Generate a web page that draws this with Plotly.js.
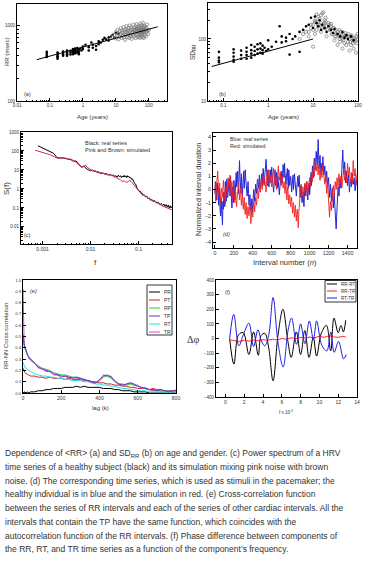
<!DOCTYPE html>
<html><head><meta charset="utf-8">
<script src="https://cdn.plot.ly/plotly-3.0.1.min.js"></script>
<style>html,body{margin:0;padding:0;background:#fff;}#g{width:365px;height:567px;}</style>
</head><body><div id="g"></div>
<script>
// ---------- (a) mean RR vs age ----------
const ageChildA = [0.08,0.08,0.08,0.08,0.17,0.17,0.17,0.17,0.17,0.25,0.25,0.25,0.33,0.33,0.33,0.33,0.42,0.42,0.42,0.5,0.5,0.5,0.5,0.58,0.58,0.58,0.58,0.67,0.67,0.67,0.75,0.75,0.75,0.83,0.9,1.0,1.0,1.2,1.5,1.5,1.8,2.0,2.0,2.5,2.5,3.0,3.0,3.5,4.0,4.5,5.0,6.0,6.0,7.0,8.0,9.0,10,12];
const rrChildA = [450,425,400,385,440,415,395,380,365,455,420,400,470,445,420,400,465,440,415,490,460,440,420,500,470,450,430,505,470,440,480,450,420,500,470,530,490,560,520,470,600,560,510,540,480,620,570,600,650,690,660,700,640,720,760,700,800,780];
const ageAdultA = [8,9,10,10,11,11,12,12,13,13,14,14,15,15,16,16,17,17,18,18,19,19,20,20,21,22,22,23,24,24,25,25,26,27,28,28,29,30,30,31,32,33,34,35,35,36,37,38,39,40,40,41,42,43,44,45,45,46,47,48,49,50,50,51,52,53,54,55,55,56,57,58,59,60,60,61,62,63,64,65,65,66,67,68,69,70,70,72,74,75,76,78,80,82,84,86,88,90,95,100];
const rrAdultA = [700,760,680,820,740,880,660,790,850,720,930,780,690,860,810,740,960,700,880,770,830,650,900,750,990,820,710,870,780,940,690,840,1010,760,880,720,950,800,670,900,830,760,1040,870,720,940,800,880,690,980,850,760,920,1050,830,700,890,770,960,840,710,1000,880,780,930,820,690,1070,860,750,950,810,880,720,1020,900,780,840,960,700,880,1100,820,760,940,870,690,1000,830,900,760,980,860,720,940,820,1040,870,780,880];
const fitAgeA = [0.04,186];
const fitRRA = [355,970];

// ---------- (b) SDRR vs age ----------
const ageChildB = [0.08,0.08,0.08,0.08,0.17,0.17,0.17,0.17,0.17,0.25,0.25,0.25,0.33,0.33,0.33,0.33,0.42,0.42,0.42,0.42,0.5,0.5,0.5,0.58,0.58,0.58,0.67,0.67,0.67,0.75,0.75,0.75,0.83,0.9,1.0,1.0,1.2,1.5,1.8,2.0,2.0,2.5,2.5,3.0,3.0,3.5,4.0,5.0,5.0,6.0,7.0,8,9,10,11,12,13,14,15,16,18,20,22,25,28,30,35,40,45,50,55,60,70,80];
const sdChildB = [62,50,45,42,68,60,52,46,43,65,55,48,72,62,55,48,80,66,58,50,75,64,55,82,68,58,85,70,60,78,66,58,72,64,95,68,75,90,160,110,88,105,92,120,56,100,110,62,130,140,160,170,220,150,230,180,160,200,140,170,150,130,160,140,125,145,120,110,130,105,115,100,110,95];
const ageAdultB = [5,6,7,8,9,10,10,11,12,12,13,14,15,15,16,17,18,18,19,20,20,22,24,25,26,28,30,30,32,35,35,38,40,40,42,45,45,48,50,50,55,55,60,60,65,65,70,70,75,80,80,85,90,95,100,13,11,17,9,8,10,12,14,16,18,21,23,27,29,33,36,39,43,47,52,57,62,67,72,77,83,88,92,97,11,15,19,25,31];
const sdAdultB = [100,120,130,110,150,75,170,190,140,250,160,210,180,130,260,170,200,150,220,160,110,180,140,160,120,150,130,95,140,120,80,140,110,90,130,100,70,120,105,85,115,80,110,90,100,65,110,80,95,100,70,90,60,85,100,230,200,270,170,130,140,190,170,150,180,140,170,120,150,110,130,100,115,95,125,105,120,90,115,85,105,95,110,120,120,240,190,175,110];
const fitAgeB = [0.055,10];
const fitSDB = [36,100];

// ---------- (c) power spectrum ----------
const freqReal = [0.0008,0.0012,0.0017,0.002,0.0023,0.0026,0.003,0.0034,0.0038,0.0042,0.0046,0.005,0.0055,0.006,0.0066,0.0072,0.0078,0.0085,0.0092,0.01,0.011,0.012,0.013,0.014,0.015,0.016,0.018,0.02,0.022,0.024,0.026,0.028,0.03,0.032,0.034,0.036,0.038,0.04,0.042,0.044,0.046,0.048,0.05,0.052,0.054,0.056,0.058,0.06,0.063,0.066,0.069,0.072,0.075,0.078,0.081,0.084,0.087,0.09,0.093,0.096,0.1,0.105,0.11,0.115,0.12,0.125,0.13,0.14,0.15,0.16,0.17,0.18,0.19,0.2,0.22,0.24,0.26,0.28,0.3,0.32,0.34,0.36,0.38,0.4,0.42,0.44,0.46,0.48,0.5];
const specReal = [190,120,75,45,42,44,40,38,35,33,28,30,22,18,14,16,13,11,10,9,10,8,9,7,8,6.5,7,6,6.5,5.2,6,5,5.5,4.5,5,4.2,5.3,4.4,5,4,4.8,4.2,5.2,4.3,4.9,4,5,4.2,4.6,3.8,4,3.2,3.4,2.6,2.5,1.9,1.8,1.3,1.3,0.95,0.9,0.7,0.75,0.55,0.6,0.45,0.5,0.38,0.42,0.3,0.33,0.25,0.28,0.22,0.24,0.18,0.2,0.15,0.17,0.13,0.16,0.12,0.15,0.11,0.14,0.1,0.13,0.1,0.12];
const freqSim = [0.0007,0.001,0.0014,0.0018,0.002,0.0023,0.0026,0.003,0.0034,0.0038,0.0042,0.0046,0.005,0.0055,0.006,0.0066,0.0072,0.0078,0.0085,0.0092,0.01,0.011,0.012,0.013,0.014,0.015,0.016,0.018,0.02,0.022,0.024,0.026,0.028,0.03,0.033,0.036,0.039,0.042,0.045,0.048,0.051,0.055,0.06,0.065,0.07,0.075,0.08,0.085,0.09,0.1,0.11,0.12,0.13,0.14,0.15,0.16,0.18,0.2,0.22,0.24,0.26,0.28,0.3,0.33,0.36,0.4,0.44,0.48,0.5];
const specSim = [110,85,65,48,42,44,40,42,36,38,30,32,24,20,16,14,15,18,14,12,10,9,9.5,8,8.5,7,7.5,6.5,6,5.5,5.8,5,5.2,4.5,4.2,3.8,3.6,3,2.6,2.5,2.7,2.2,2.4,2.8,2.5,2,1.6,1.4,1.1,0.85,0.7,0.55,0.48,0.42,0.36,0.33,0.28,0.25,0.22,0.2,0.17,0.16,0.14,0.12,0.11,0.1,0.09,0.08,0.08];

// ---------- (d) normalized interval series (every 5th interval) ----------
const seriesReal = [-0.3,0.6,0.4,-0.2,-0.8,0.5,0.2,-0.5,-1.2,0.1,
-0.4,-1.6,-2.0,-0.6,-1.1,-1.9,-2.7,-0.9,-1.5,-0.2,
-0.6,-1.3,0.6,0.0,-0.9,0.8,0.3,-0.6,-0.2,0.3,
0.8,0.1,-0.5,1.0,0.5,-0.7,-1.4,0.2,-0.3,-1.0,
0.7,0.3,-0.8,-0.1,1.0,1.3,0.2,0.8,1.4,0.4,
-0.3,1.1,2.2,1.0,0.5,-0.3,1.2,0.6,-0.4,0.2,
0.9,1.4,0.1,0.7,1.5,0.9,0.3,0.6,-0.5,0.0,
0.6,-0.3,-1.2,-0.6,-0.4,-1.0,-1.6,-1.1,-0.7,-1.8,
-1.3,-0.5,0.0,-0.4,-0.9,-0.2,0.4,0.0,-0.3,0.4,
0.8,0.5,0.1,0.6,1.1,0.3,-0.2,0.5,0.9,1.2,
0.3,0.9,1.6,1.0,0.4,0.9,1.2,1.8,2.3,1.4,
0.8,0.3,1.5,0.9,0.2,0.7,1.1,1.5,0.5,1.2,
1.7,1.0,0.6,0.2,-0.2,0.4,0.9,1.5,0.3,0.9,
1.3,0.5,0.1,1.0,0.7,0.1,-0.4,0.3,0.8,1.0,
1.4,0.9,0.5,1.2,1.9,1.5,0.9,2.0,1.3,0.8,
0.4,0.9,1.1,1.6,0.6,0.1,1.5,1.1,0.3,0.8,
1.0,0.5,-0.2,0.3,0.7,1.1,0.0,0.5,1.2,0.7,
0.4,0.0,-0.5,0.2,0.6,1.0,0.2,0.6,1.1,0.2,
-0.6,0.0,0.3,-0.4,-1.0,-0.5,-0.2,-0.8,-1.3,-0.6,
0.4,-0.1,-0.5,0.1,0.6,0.0,-0.8,-0.3,0.2,0.5,
-0.4,0.4,0.9,1.3,0.3,1.0,1.8,1.3,0.9,2.0,
2.4,2.0,1.5,2.3,2.9,2.3,1.9,2.7,3.8,2.6,
1.6,2.2,2.6,1.8,1.2,1.6,2.0,1.4,2.5,1.8,
1.1,1.4,1.8,1.0,0.6,1.0,1.4,0.8,0.2,0.6,
0.9,0.1,-0.6,-0.1,0.4,-0.2,-0.9,-0.3,0.1,-0.7,
-1.4,-0.8,-0.3,-1.1,-2.0,-2.4,-3.0,-2.1,-1.2,-0.5,
0.2,0.0,-0.5,0.3,0.8,0.6,0.1,0.9,1.6,2.2,
3.0,1.9,1.2,1.6,2.1,1.2,0.5,0.8,1.4,0.9,
0.3,0.7,1.1,0.5,-0.2,0.3,0.8,0.6,0.2,0.9,
1.2,0.7,0.4,0.5,0.9,0.4,-0.1,0.2,0.7,0.6,
0.3];
const seriesSim = [0.2,-0.4,-0.9,0.1,0.6,0.9,1.4,0.4,-0.3,0.2,
0.5,-0.5,-1.0,-0.2,0.1,-0.3,-0.6,0.2,0.7,0.1,
-0.2,-0.8,-1.1,-0.3,0.3,-0.2,-0.5,0.4,0.9,0.5,
0.1,0.6,1.1,0.4,-0.3,0.2,0.6,-0.1,-0.7,-0.1,
0.2,-0.5,-1.0,-0.4,-0.2,-0.9,-1.3,-0.6,-0.4,0.1,
0.4,-0.3,-0.8,-0.2,0.1,-0.6,-1.2,-0.7,-0.3,-1.0,
-1.5,-0.9,-0.6,-1.4,-1.9,-1.3,-1.0,-1.7,-2.2,-1.6,
-1.3,-1.8,-2.0,-1.4,-1.1,-1.9,-2.6,-2.0,-1.4,-1.9,
-2.1,-1.4,-0.9,-1.3,-1.7,-1.0,-0.6,-1.0,-1.2,-0.4,
0.1,-0.4,-0.7,0.0,0.5,0.1,-0.2,0.4,0.8,0.3,
0.0,0.6,1.0,0.5,0.3,0.9,0.7,0.2,-0.2,0.6,
1.2,0.7,0.4,1.0,1.5,0.9,0.6,0.9,1.1,0.5,
0.2,0.6,0.9,1.3,1.6,0.9,0.5,0.9,1.2,0.5,
0.0,0.5,0.8,1.4,1.8,1.1,0.7,1.0,1.3,0.8,
0.3,0.7,1.0,0.5,0.1,0.4,0.6,0.1,-0.3,0.2,
0.5,-0.2,-0.8,-0.2,0.2,-0.5,-1.1,-0.7,-0.4,-0.9,
-1.3,-0.8,-0.6,-1.2,-1.8,-1.3,-1.0,-1.6,-2.1,-1.5,
-1.2,-1.9,-2.4,-1.8,-1.5,-2.2,-2.9,-1.8,-1.1,-0.6,
-0.2,0.1,0.4,-0.1,-0.5,-0.1,0.2,-0.3,-0.6,0.0,
0.5,0.1,-0.1,0.3,0.6,0.0,-0.4,0.0,0.3,0.7,
0.9,0.4,0.2,0.8,1.3,0.9,0.6,1.2,1.7,1.3,
1.0,1.7,2.3,1.8,1.4,1.7,2.0,1.5,1.1,1.5,
1.8,1.2,0.7,1.1,1.5,1.2,0.9,1.4,1.9,1.4,
1.0,0.6,0.4,0.8,1.2,0.4,-0.3,0.1,0.5,-0.4,
-1.2,-1.7,-2.1,-1.4,-0.9,-1.3,-1.6,-1.0,-0.4,0.0,
0.3,-0.1,-0.5,0.1,0.6,0.3,0.0,0.5,0.9,0.5,
0.2,0.8,1.2,0.7,0.4,0.7,1.0,0.5,0.1,0.4,
0.8,1.2,1.6,1.1,0.7,1.1,1.4,0.9,0.5,1.3,
2.0,1.5,1.1,1.4,1.7,1.0,0.6,0.9,1.3,0.8,
0.4,1.3,2.2,1.5,1.0,1.3,1.6,1.0,0.5,0.8,
1.2];

// ---------- (e) cross correlation ----------
const lagK = [0,2,4,6,8,10,15,20,25,30,40,60,80,100,120,140,160,180,200,220,240,260,280,300,320,340,360,380,400,420,440,460,480,500,520,540,560,580,600,620,640,660,680,700,720,740,760,780,800];
const ccPR = [0.01,0.00,0.01,0.00,0.01,0.01,0.00,0.01,0.01,0.00,0.01,0.01,0.02,0.02,0.03,0.03,0.04,0.04,0.04,0.05,0.05,0.05,0.06,0.05,0.06,0.05,0.05,0.05,0.05,0.04,0.04,0.04,0.03,0.03,0.02,0.02,0.02,0.01,0.01,0.01,0.01,0.00,0.00,0.00,0.00,0.00,0.00,0.00,0.00];
const ccPT = [0.22,0.21,0.20,0.19,0.19,0.18,0.17,0.17,0.16,0.16,0.15,0.15,0.14,0.14,0.13,0.14,0.13,0.13,0.13,0.12,0.13,0.12,0.12,0.12,0.11,0.11,0.10,0.10,0.09,0.09,0.08,0.08,0.07,0.07,0.06,0.06,0.05,0.05,0.04,0.04,0.04,0.03,0.04,0.03,0.03,0.02,0.02,0.02,0.02];
const ccRP = [0.50,0.46,0.43,0.41,0.40,0.39,0.36,0.35,0.33,0.31,0.29,0.26,0.24,0.22,0.21,0.20,0.18,0.17,0.16,0.16,0.15,0.14,0.14,0.13,0.12,0.11,0.10,0.09,0.11,0.14,0.15,0.13,0.10,0.08,0.07,0.07,0.08,0.07,0.06,0.05,0.04,0.03,0.03,0.02,0.02,0.02,0.02,0.01,0.02];
const ccTP = [0.52,0.48,0.44,0.42,0.40,0.41,0.37,0.36,0.33,0.32,0.30,0.26,0.23,0.21,0.20,0.19,0.17,0.16,0.15,0.15,0.14,0.13,0.14,0.13,0.12,0.11,0.10,0.09,0.12,0.15,0.16,0.14,0.11,0.08,0.07,0.08,0.09,0.08,0.06,0.05,0.04,0.03,0.03,0.02,0.03,0.02,0.01,0.02,0.02];
const ccRT = [0.27,0.26,0.25,0.24,0.24,0.23,0.22,0.21,0.21,0.20,0.19,0.17,0.16,0.15,0.15,0.14,0.14,0.13,0.13,0.12,0.12,0.11,0.11,0.11,0.10,0.10,0.09,0.08,0.08,0.07,0.07,0.06,0.06,0.05,0.04,0.04,0.03,0.03,0.02,0.02,0.02,0.01,0.01,0.01,0.01,0.01,0.00,0.01,0.01];
const ccTR = [0.92,0.62,0.50,0.45,0.42,0.40,0.38,0.35,0.34,0.31,0.29,0.27,0.22,0.22,0.19,0.19,0.16,0.16,0.14,0.15,0.13,0.14,0.13,0.13,0.11,0.11,0.09,0.09,0.11,0.16,0.15,0.15,0.10,0.08,0.08,0.07,0.09,0.07,0.07,0.04,0.05,0.03,0.02,0.03,0.02,0.02,0.02,0.01,0.03];

// ---------- (f) phase difference ----------
const fqRRRT = [0.45,0.9,1.4,1.9,2.5,3.0,3.5,3.8,4.2,4.6,5.07,5.6,6.12,6.65,7.0,7.55,8.0,8.45,8.9,9.35,9.7,10.2,10.75,11.2,11.55,12.0,12.3,12.55,12.8];
const phRRRT = [0,-175,25,40,-110,45,-115,20,35,-60,-290,25,200,-20,-130,45,-110,55,-130,10,-120,35,90,-85,140,40,90,45,125];
const fqRRTR = [0.5,1,1.5,2,2.5,3,3.5,4,4.5,5,5.5,6,6.5,7,7.5,8,8.5,9,9.5,10,10.5,11,11.5,12,12.5,12.8];
const phRRTR = [-10,-15,-20,-12,-18,-10,-15,-8,-12,-5,-10,0,-5,5,0,8,3,10,5,15,8,18,12,8,15,10];
const fqRTTR = [0.45,0.89,1.43,1.93,2.5,3.0,3.46,3.82,4.18,4.6,5.07,5.6,6.14,6.68,7.04,7.57,8.0,8.46,8.93,9.36,9.71,10.25,10.79,11.21,11.57,12.04,12.57,12.86];
const phRTTR = [0,165,-50,30,105,-55,60,-15,-50,20,280,-30,-195,60,140,-40,100,-35,120,-5,120,-45,-85,45,-95,-20,-140,-110];

const eLegendNames = ['PR','PT','RP','TP','RT','TR'];
const fLegendNames = ['RR-RT','RR-TR','RT-TR'];

// ---------- layout helpers ----------
const W = 365, H = 567;
const FF = 'Liberation Sans, Arial, sans-serif';
const px = v => v / W, py = v => 1 - v / H;
function ax(dom, extra, fs) {
  return Object.assign({
    domain: dom, showline: true, linecolor: '#000', linewidth: 1, mirror: true,
    ticks: 'inside', ticklen: 3, tickcolor: '#000', tickwidth: 1,
    showgrid: false, zeroline: false,
    tickfont: {family: FF, size: fs || 5, color: '#333'}
  }, extra);
}
function logMinor() { return {ticks: 'inside', ticklen: 1.5, tickcolor: '#000', dtick: 'D1', showgrid: false}; }
function A(text, x, y, o) {
  o = o || {};
  return {text: text, x: px(x), y: py(y), xref: 'paper', yref: 'paper', showarrow: false,
    xanchor: o.xa || 'center', yanchor: o.ya || 'middle', textangle: o.rot || 0,
    font: {family: o.ff || FF, size: o.fs || 6, color: o.c || '#333'}};
}

const colE = ['#000000', '#e02020', '#33cc33', '#6a30d8', '#20e0e0', '#e040e0'];
const colF = ['#000000', '#ff2020', '#2020e0'];

const traces = [
  {x: ageChildA, y: rrChildA, mode: 'markers', marker: {size: 2.6, color: '#000'}, xaxis: 'x', yaxis: 'y'},
  {x: ageAdultA, y: rrAdultA, mode: 'markers', marker: {symbol: 'circle-open', size: 3.2, color: '#777', line: {width: 0.7}}, xaxis: 'x', yaxis: 'y'},
  {x: fitAgeA, y: fitRRA, mode: 'lines', line: {color: '#000', width: 1}, xaxis: 'x', yaxis: 'y'},

  {x: ageAdultB, y: sdAdultB, mode: 'markers', marker: {symbol: 'circle-open', size: 3.2, color: '#777', line: {width: 0.7}}, xaxis: 'x2', yaxis: 'y2'},
  {x: ageChildB, y: sdChildB, mode: 'markers', marker: {size: 2.6, color: '#000'}, xaxis: 'x2', yaxis: 'y2'},
  {x: fitAgeB, y: fitSDB, mode: 'lines', line: {color: '#000', width: 1}, xaxis: 'x2', yaxis: 'y2'},

  {x: freqReal, y: specReal, mode: 'lines', line: {color: '#000', width: 1}, xaxis: 'x3', yaxis: 'y3'},
  {x: freqSim, y: specSim, mode: 'lines', line: {color: '#d8246e', width: 1}, xaxis: 'x3', yaxis: 'y3'},

  {y: seriesReal, x0: 0, dx: 5, mode: 'lines', line: {color: '#2424d8', width: 1}, xaxis: 'x4', yaxis: 'y4'},
  {y: seriesSim, x0: 0, dx: 5, mode: 'lines', line: {color: '#f02020', width: 1}, opacity: 0.9, xaxis: 'x4', yaxis: 'y4'},

  {x: lagK, y: ccPR, mode: 'lines', line: {color: colE[0], width: 1}, xaxis: 'x5', yaxis: 'y5'},
  {x: lagK, y: ccPT, mode: 'lines', line: {color: colE[1], width: 1}, xaxis: 'x5', yaxis: 'y5'},
  {x: lagK, y: ccRT, mode: 'lines', line: {color: colE[4], width: 1}, xaxis: 'x5', yaxis: 'y5'},
  {x: lagK, y: ccTR, mode: 'lines', line: {color: colE[5], width: 1}, xaxis: 'x5', yaxis: 'y5'},
  {x: lagK, y: ccRP, mode: 'lines', line: {color: colE[2], width: 1}, xaxis: 'x5', yaxis: 'y5'},
  {x: lagK, y: ccTP, mode: 'lines', line: {color: colE[3], width: 1}, xaxis: 'x5', yaxis: 'y5'},

  {x: fqRRRT, y: phRRRT, mode: 'lines', line: {color: colF[0], width: 1, shape: 'spline'}, xaxis: 'x6', yaxis: 'y6'},
  {x: fqRRTR, y: phRRTR, mode: 'lines', line: {color: colF[1], width: 1, shape: 'spline'}, xaxis: 'x6', yaxis: 'y6'},
  {x: fqRTTR, y: phRTTR, mode: 'lines', line: {color: colF[2], width: 1, shape: 'spline'}, xaxis: 'x6', yaxis: 'y6'}
];

const logCommon = {type: 'log', dtick: 1, tick0: 0, exponentformat: 'none', minor: logMinor()};

const layout = {
  width: W, height: H, margin: {l: 0, r: 0, t: 0, b: 0}, showlegend: false,
  paper_bgcolor: '#fff', plot_bgcolor: '#fff',
  xaxis: ax([px(17), px(167)], Object.assign({}, logCommon, {range: [-2, 2.55], anchor: 'y'}), 4.5),
  yaxis: ax([py(101), py(4)], Object.assign({}, logCommon, {range: [2, 3.29], anchor: 'x'}), 4.5),
  xaxis2: ax([px(208), px(358)], Object.assign({}, logCommon, {range: [-1.34, 2], anchor: 'y2'}), 4.5),
  yaxis2: ax([py(101), py(3)], Object.assign({}, logCommon, {range: [1, 2.58], anchor: 'x2'}), 4.5),
  xaxis3: ax([px(21), px(172)], Object.assign({}, logCommon, {range: [-3.45, -0.3], anchor: 'y3'}), 5),
  yaxis3: ax([py(244), py(132)], Object.assign({}, logCommon, {range: [-2.9, 3], anchor: 'x3'}), 4.5),
  xaxis4: ax([px(213), px(357)], {range: [-20, 1500], dtick: 200, anchor: 'y4'}, 5.3),
  yaxis4: ax([py(248), py(133)], {range: [-4.45, 4.3], dtick: 1, anchor: 'x4'}, 5.3),
  xaxis5: ax([px(23), px(176)], {range: [0, 800], dtick: 200, anchor: 'y5'}, 5),
  yaxis5: ax([py(393), py(280)], {range: [0, 1], dtick: 0.1, tickformat: '.1f', anchor: 'x5'}, 4.3),
  xaxis6: ax([px(216), px(357)], {range: [-1, 14], dtick: 2, anchor: 'y6'}, 5),
  yaxis6: ax([py(397), py(280)], {range: [-400, 400], dtick: 100, anchor: 'x6'}, 4.6),
  shapes: [],
  annotations: []
};

const an = layout.annotations;
// panel letters
an.push(A('(a)', 27, 94, {fs: 5.5}));
an.push(A('(b)', 222, 94, {fs: 5.5}));
an.push(A('(c)', 27, 235, {fs: 5.5}));
an.push(A('<i>(d)</i>', 226, 234, {fs: 5.5}));
an.push(A('<i>(e)</i>', 33, 291, {fs: 5.5}));
an.push(A('(f)', 227, 292, {fs: 5.5}));
// axis titles
an.push(A('Age (years)', 92, 117, {fs: 6}));
an.push(A('RR (msec)', 7, 52, {fs: 6, rot: -90}));
an.push(A('Age (years)', 283, 117, {fs: 6}));
an.push(A('SD<sub>RR</sub>', 193, 52, {fs: 6.5, rot: -90}));
an.push(A('f', 96, 262, {fs: 8}));
an.push(A('S(f)', 6, 188, {fs: 8, rot: -90}));
an.push(A('Interval number (<i>n</i>)', 285, 262, {fs: 7.5}));
an.push(A('Normalized interval duration', 198, 190, {fs: 7.5, rot: -90}));
an.push(A('lag (k)', 100, 408, {fs: 6}));
an.push(A('RR-NN Cross correlation', 6, 336, {fs: 6, rot: -90}));
an.push(A('f x 10<sup>-3</sup>', 286, 412, {fs: 4.5}));
an.push(A('\u0394\u03c6', 193, 339, {fs: 10, ff: 'Liberation Serif, Times New Roman, serif'}));
// in-plot notes
an.push(A('Black: real series', 83, 143, {fs: 5.5, xa: 'left'}));
an.push(A('Pink and Brown: simulated', 83, 150, {fs: 5.5, xa: 'left'}));
an.push(A('Blue: real series', 228, 139, {fs: 5.3, xa: 'left'}));
an.push(A('Red: simulated', 228, 146, {fs: 5.3, xa: 'left'}));

// legend (e)
layout.shapes.push({type: 'rect', xref: 'paper', yref: 'paper', x0: px(147), x1: px(172), y0: py(335), y1: py(285), line: {color: '#000', width: 0.8}, fillcolor: '#fff'});
eLegendNames.forEach((nm, i) => {
  const yy = 292 + i * 8;
  layout.shapes.push({type: 'line', xref: 'paper', yref: 'paper', x0: px(149), x1: px(160), y0: py(yy), y1: py(yy), line: {color: colE[i], width: 1}});
  an.push(A(nm, 162, yy, {fs: 5, xa: 'left'}));
});
// legend (f)
layout.shapes.push({type: 'rect', xref: 'paper', yref: 'paper', x0: px(325), x1: px(356), y0: py(302), y1: py(280.5), line: {color: '#000', width: 0.8}, fillcolor: '#fff'});
fLegendNames.forEach((nm, i) => {
  const yy = 284 + i * 7;
  layout.shapes.push({type: 'line', xref: 'paper', yref: 'paper', x0: px(327), x1: px(337), y0: py(yy), y1: py(yy), line: {color: colF[i], width: 1}});
  an.push(A(nm, 339, yy, {fs: 4.6, xa: 'left'}));
});

// caption
const captionLines = [
  'Dependence of &lt;RR&gt; (a) and SD<sub>RR</sub> (b) on age and gender. (c) Power spectrum of a HRV',
  'time series of a healthy subject (black) and its simulation mixing pink noise with brown',
  'noise. (d) The corresponding time series, which is used as stimuli in the pacemaker; the',
  'healthy individual is in blue and the simulation in red. (e) Cross-correlation function',
  'between the series of RR intervals and each of the series of other cardiac intervals. All the',
  'intervals that contain the TP have the same function, which coincides with the',
  'autocorrelation function of the RR intervals. (f) Phase difference between components of',
  'the RR, RT, and TR time series as a function of the component\u2019s frequency.'
];
captionLines.forEach((t, i) => an.push(A(t, 3, 453.3 + i * 13.72, {fs: 8.5, xa: 'left', c: '#333'})));

Plotly.newPlot('g', traces, layout, {staticPlot: true, displayModeBar: false});
</script></body></html>
